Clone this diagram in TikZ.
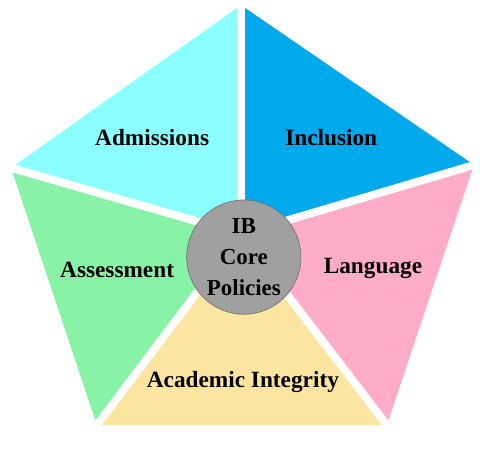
\documentclass[tikz,border=0pt]{standalone}
\usepackage{fontspec}
\setmainfont{Liberation Serif}
\usetikzlibrary{positioning,calc}

\definecolor{admcyan}{RGB}{140,255,255}
\definecolor{incblue}{RGB}{0,168,236}
\definecolor{lanpink}{RGB}{255,172,200}
\definecolor{assgreen}{RGB}{136,242,166}
\definecolor{acayellow}{RGB}{251,229,160}
\definecolor{coregray}{RGB}{160,160,160}

\begin{document}
\begin{tikzpicture}[
    sector/.style={draw=none},
    gap/.style={white, line width=4.7pt},
    label/.style={font=\fontsize{13.8}{16}\selectfont\bfseries, text=black},
    corebox/.style={circle, draw=black!55, fill=coregray, minimum size=2.38cm,
                    inner sep=0pt, align=center,
                    font=\fontsize{13.6}{18.3}\selectfont\bfseries}
]
\useasboundingbox (0,0) rectangle (10,9.4167);

% Pentagon corners and centre
\coordinate (top) at (5.02, 9.31);
\coordinate (left) at (0.23, 5.92);
\coordinate (right) at (9.875, 5.98);
\coordinate (botl) at (2.02, 0.56);
\coordinate (botr) at (8.06, 0.56);
\coordinate (mid) at (5.02, 4.54);

% Coloured sectors
\fill[admcyan] (mid) -- (left) -- (top) -- cycle;
\fill[incblue] (mid) -- (top) -- (right) -- cycle;
\fill[lanpink] (mid) -- (right) -- (botr) -- cycle;
\fill[acayellow] (mid) -- (botr) -- (botl) -- cycle;
\fill[assgreen] (mid) -- (botl) -- (left) -- cycle;

% White gaps between sectors
\foreach \corner in {top, left, right, botl, botr} {
    \draw[gap] (mid) -- ($(mid)!1.03!(\corner)$);
}

% Sector labels
\node[label] (adm) at (3.17, 6.56) {Admissions};
\node[label] (inc) at (6.90, 6.56) {Inclusion};
\node[label] (ass) at (2.44, 3.79) {Assessment};
\node[label] (lan) at (7.77, 3.83) {Language};
\node[label] (aca) at (5.06, 1.46) {Academic Integrity};

% Centre circle
\node[corebox] (core) at (5.08, 4.06) {IB\\Core\\Policies};

\end{tikzpicture}
\end{document}
